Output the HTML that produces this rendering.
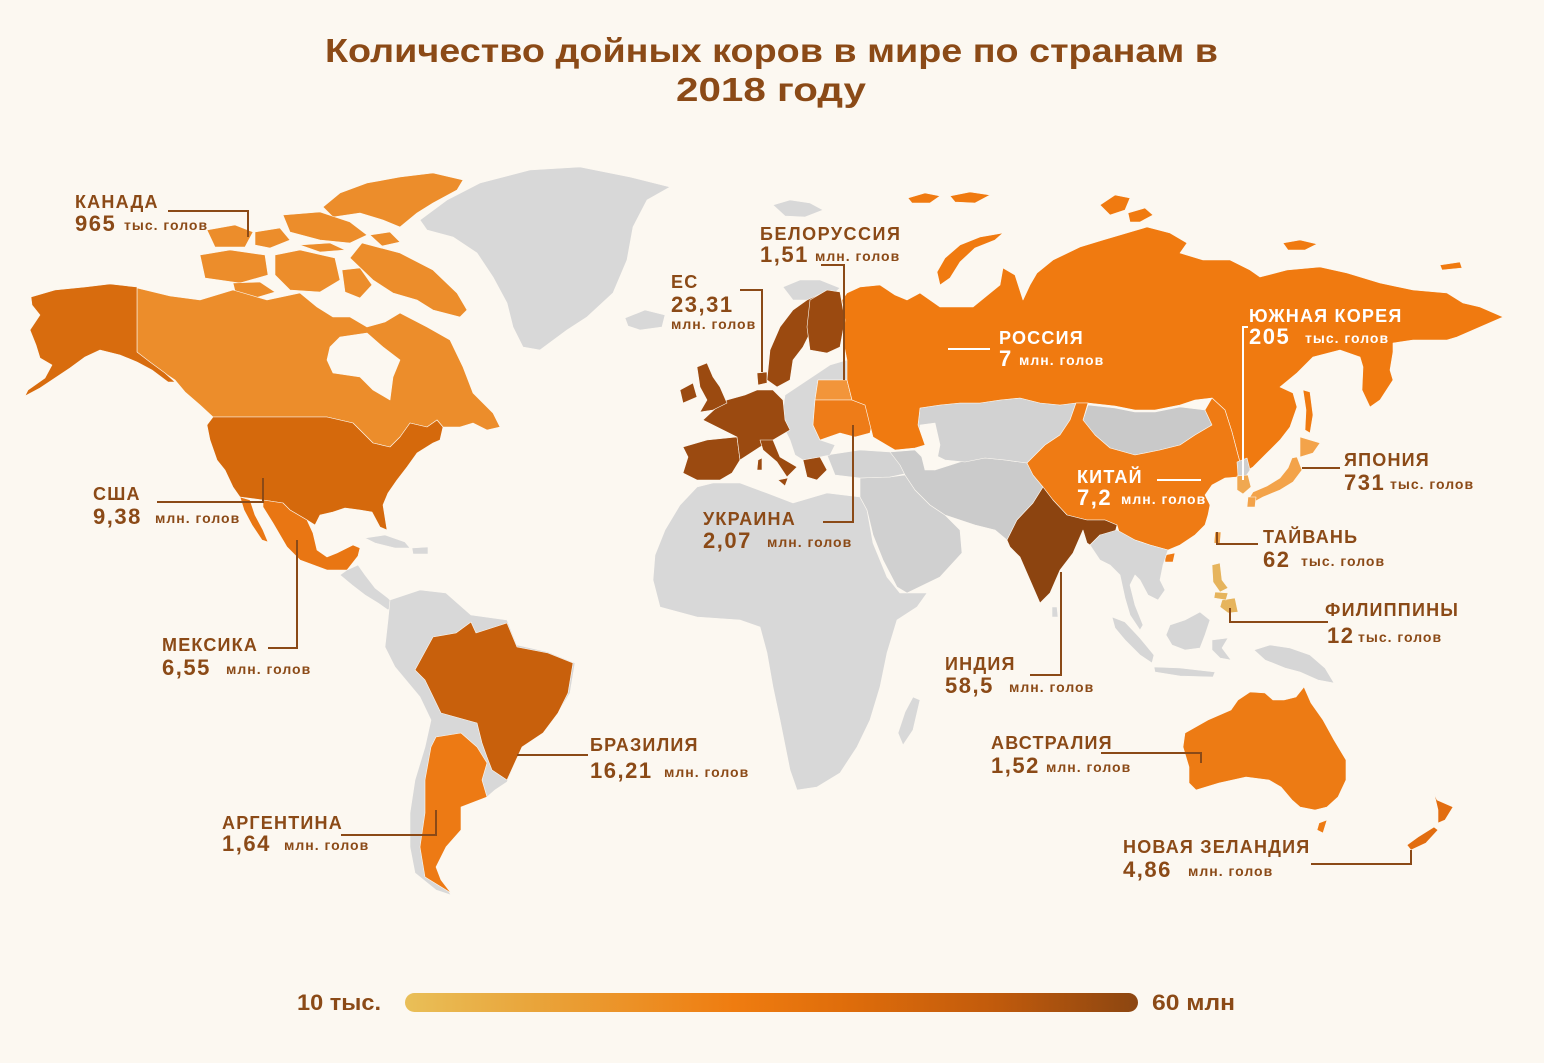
<!DOCTYPE html>
<html><head><meta charset="utf-8"><style>
html,body{margin:0;padding:0;background:#fcf8f1;}
svg{display:block;}
text{font-family:"Liberation Sans","DejaVu Sans",sans-serif;font-weight:bold;}
.t{fill:#8b4a17;font-size:18px;letter-spacing:1.2px;}
.n{fill:#8b4a17;font-size:22px;letter-spacing:1.5px;}
.s{fill:#8b4a17;font-size:14px;letter-spacing:1px;}
.w{fill:#ffffff;}
.ln{stroke:#8b4a17;stroke-width:2;fill:none;}
.lw{stroke:#ffffff;stroke-width:2;fill:none;}
.g{fill:#d8d8d8;}
polygon{stroke:#fcf8f1;stroke-width:0.6;stroke-linejoin:round;}
</style></head><body>
<svg width="1544" height="1063" viewBox="0 0 1544 1063" xmlns="http://www.w3.org/2000/svg">
<defs>
<linearGradient id="lg" x1="0" x2="1" y1="0" y2="0">
<stop offset="0" stop-color="#e9bf58"/>
<stop offset="0.18" stop-color="#e9a43a"/>
<stop offset="0.45" stop-color="#ef7c10"/>
<stop offset="0.6" stop-color="#df6d0b"/>
<stop offset="0.8" stop-color="#c25b0c"/>
<stop offset="1" stop-color="#8c4611"/>
</linearGradient>
</defs>
<rect width="1544" height="1063" fill="#fcf8f1"/>

<!-- Title -->
<text x="325" y="62" font-size="33" fill="#8b4a17" textLength="893" lengthAdjust="spacingAndGlyphs">Количество дойных коров в мире по странам в</text>
<text x="676" y="101" font-size="33" fill="#8b4a17" textLength="190" lengthAdjust="spacingAndGlyphs">2018 году</text>

<!-- Greenland, Iceland, Svalbard -->
<polygon class="g" fill="#d9d9d9" points="420,220 447,200 480,183 530,170 580,167 630,177 670,187 647,200 633,227 627,260 613,293 587,317 567,330 540,350 523,347 513,327 507,303 493,277 477,253 453,237 427,230"/>
<polygon class="g" points="625,318 645,310 665,315 662,327 640,330 628,326"/>
<polygon class="g" points="773,205 790,200 810,203 823,210 805,217 785,216"/>

<!-- Canada arctic islands -->
<g fill="#ec8d2b">
<polygon points="323,207 340,193 367,183 400,177 433,173 463,180 457,190 433,203 417,213 400,227 383,220 360,213 333,217"/>
<polygon points="283,215 320,212 350,222 367,235 350,243 320,240 290,232"/>
<polygon points="207,230 235,225 253,232 245,247 215,247"/>
<polygon points="200,255 230,250 265,255 268,275 240,283 205,278"/>
<polygon points="275,255 300,250 335,258 340,280 320,292 290,290 275,275"/>
<polygon points="350,258 362,243 400,253 433,270 457,293 467,310 460,317 433,310 417,300 393,293 373,280"/>
<polygon points="300,245 330,243 345,250 320,252"/>
<polygon points="255,232 280,228 290,240 270,248 255,245"/>
<polygon points="342,270 360,268 372,285 360,298 345,292"/>
<polygon points="233,283 260,282 275,292 255,298 236,295"/>
<polygon points="370,235 390,232 400,242 382,246"/>
<!-- Canada mainland -->
<polygon points="137,288 170,296 200,300 233,290 267,300 300,293 317,307 333,317 350,317 367,327 385,322 400,313 427,327 450,340 463,367 473,393 493,413 500,427 487,430 473,423 460,427 443,427 437,420 427,427 410,423 400,437 390,447 373,443 363,433 353,423 327,417 213,417 200,405 185,392 175,380 160,370 145,360 137,352"/>
</g>
<!-- Hudson Bay -->
<polygon fill="#fcf8f1" points="330,347 340,337 367,333 383,347 400,360 393,377 390,400 373,390 360,377 333,373 327,360"/>

<!-- Alaska -->
<polygon fill="#d86c0e" points="31,297 55,290 85,287 110,284 137,287 137,352 150,362 165,373 175,382 168,382 152,370 137,362 120,355 100,350 85,357 70,368 55,378 40,388 25,396 28,390 45,378 52,365 40,358 36,345 30,330 40,315 32,305"/>
<!-- USA -->
<polygon fill="#d5690c" points="213,417 327,417 353,423 363,433 373,443 390,447 400,437 410,423 427,427 437,420 443,427 440,440 433,443 417,453 407,467 397,480 388,493 383,505 387,530 380,527 372,512 360,510 345,508 333,512 320,515 315,525 307,520 290,510 283,503 263,500 240,497 233,487 225,470 217,460 210,440 207,425"/>
<!-- Mexico -->
<g fill="#e97613">
<polygon points="263,500 283,503 290,510 307,520 313,533 317,550 327,557 337,553 343,550 353,545 360,548 358,556 347,570 327,570 300,560 287,547 273,523 263,507"/>
<polygon points="240,497 250,500 255,515 263,530 268,542 262,540 252,525 244,510"/>
</g>
<!-- Central America & Caribbean -->
<polygon class="g" points="347,570 358,565 365,575 375,588 388,598 395,605 388,610 378,603 365,595 352,585 340,575"/>
<polygon class="g" points="365,538 385,535 405,542 410,548 395,548 375,543"/>
<polygon class="g" points="412,548 428,547 428,554 413,554"/>

<!-- South America -->
<polygon class="g" points="390,600 420,590 446,593 471,615 507,620 517,645 548,652 575,663 570,693 558,713 543,733 522,747 507,782 495,790 487,797 461,807 461,830 446,847 436,867 441,880 451,895 436,890 415,873 410,847 410,813 415,780 425,747 431,720 420,697 395,667 385,647 388,620"/>
<polygon fill="#c8600c" points="415,670 433,637 456,633 471,622 476,633 507,623 517,647 548,653 573,663 568,693 558,713 543,733 522,747 507,780 492,770 487,757 482,743 477,723 441,713 425,680"/>
<polygon fill="#ed7a14" points="431,747 436,737 461,733 477,747 487,763 482,780 487,797 461,807 461,830 446,847 436,867 441,880 451,893 425,877 420,847 425,813 425,780"/>

<!-- Africa -->
<polygon class="g" fill="#d9d9d9" points="697,487 713,483 740,483 767,493 793,503 827,493 860,497 867,510 873,543 887,577 900,593 927,593 917,607 897,620 887,653 880,687 870,720 857,747 840,773 817,787 797,790 790,770 780,720 773,687 767,653 760,627 740,620 697,617 660,607 653,580 655,555 665,530 680,505"/>
<polygon class="g" points="913,697 920,700 913,730 903,745 898,733 905,712"/>
<!-- Middle East -->
<polygon fill="#d0d0d0" points="860,478 890,477 905,475 915,490 930,505 945,515 960,530 962,553 940,577 907,593 897,587 883,560 873,535 867,510 860,497"/>
<polygon fill="#d3d3d3" points="827,455 860,450 890,452 917,458 913,472 890,477 860,478 835,475"/>
<polygon fill="#cbcbcb" points="890,452 915,450 935,470 960,462 985,458 1005,460 1027,463 1035,475 1043,487 1033,503 1017,520 1007,540 995,530 975,525 960,520 945,515 930,505 915,490 905,475 900,465"/>
<!-- Kazakhstan -->
<polygon fill="#d2d2d2" points="920,408 940,405 960,403 980,403 1000,400 1020,398 1040,403 1060,405 1076,403 1070,420 1060,435 1045,445 1027,463 1005,460 985,458 965,462 945,460 935,455 925,445 918,425"/>
<polygon fill="#fcf8f1" points="920,425 935,423 940,445 935,470 925,470 920,450"/>

<!-- Europe gray base -->
<polygon class="g" points="785,395 800,385 815,375 830,365 847,360 847,380 818,380 815,400 813,425 820,440 835,445 830,455 820,457 803,460 795,455 790,440 785,430 783,410"/>
<polygon class="g" points="783,287 800,280 820,280 840,288 830,297 810,300 793,300"/>
<!-- EU -->
<g fill="#9b4a10">
<polygon points="683,447 707,440 737,437 740,460 732,473 720,480 697,480 683,473 688,457"/>
<polygon points="703,420 717,407 727,400 745,395 757,390 773,390 783,400 785,420 790,430 773,440 760,447 740,460 737,437 717,427"/>
<polygon points="760,440 773,440 780,457 797,467 787,477 777,462 763,450"/>
<polygon points="778,480 788,478 785,486"/>
<polygon points="758,460 762,458 762,470 757,470"/>
<polygon points="697,367 707,363 713,377 720,387 727,403 713,410 700,412 707,400 700,387"/>
<polygon points="680,390 693,383 697,397 683,403"/>
<polygon points="757,373 767,372 767,383 758,385"/>
<polygon points="767,380 770,350 780,327 793,310 807,300 820,294 815,310 813,327 803,347 793,360 790,380 777,387"/>
<polygon points="810,300 827,290 840,292 845,320 840,347 827,353 810,350 807,327"/>
<polygon points="803,460 820,457 827,470 817,480 807,477"/>
</g>
<!-- Belarus, Ukraine -->
<polygon fill="#f2953a" points="818,380 847,380 852,400 815,400"/>
<polygon fill="#ee7c18" points="815,400 852,400 865,405 873,420 870,433 855,437 840,433 820,440 813,425"/>

<!-- Russia -->
<g fill="#f07a10">
<polygon points="847,293 860,287 880,285 895,295 907,300 920,293 940,307 973,307 1000,285 1003,268 1015,275 1023,300 1030,285 1037,273 1053,260 1080,247 1103,240 1137,230 1147,227 1170,233 1187,243 1180,253 1203,260 1230,260 1250,270 1260,277 1287,270 1320,267 1347,273 1380,283 1413,290 1447,293 1463,303 1480,307 1503,317 1480,327 1457,337 1447,340 1413,340 1393,343 1393,352 1390,370 1393,380 1380,400 1370,407 1362,390 1363,367 1360,357 1340,350 1313,357 1297,373 1280,387 1293,393 1297,407 1290,427 1280,440 1267,453 1253,467 1243,473 1238,455 1232,432 1225,410 1212,398 1195,400 1180,405 1155,410 1135,410 1115,406 1088,403 1076,403 1060,405 1040,403 1020,398 1000,400 980,403 960,403 940,405 920,408 918,425 925,445 915,448 895,450 873,437 870,425 865,405 852,400 847,380 847,360 843,340 845,320 842,300"/>
<polygon points="937,272 945,258 960,245 980,237 1003,233 995,240 975,248 960,262 950,278 940,285"/>
<polygon points="1100,205 1115,195 1130,198 1125,210 1110,215"/>
<polygon points="1128,213 1145,208 1153,215 1140,222 1130,222"/>
<polygon points="908,198 925,193 940,196 930,203 912,203"/>
<polygon points="950,196 970,192 990,195 975,203 955,202"/>
<polygon points="1283,243 1300,240 1317,244 1305,250 1288,250"/>
<polygon points="1440,265 1460,262 1462,268 1442,270"/>
<polygon points="1303,390 1310,392 1313,415 1310,433 1305,430 1306,410"/>
</g>

<!-- Mongolia -->
<polygon fill="#c9c9c9" points="1088,405 1115,408 1135,412 1155,412 1180,407 1205,410 1212,425 1195,435 1180,445 1160,450 1135,455 1110,448 1095,435 1083,420"/>
<!-- China -->
<polygon fill="#ef7b14" points="1027,463 1045,445 1060,435 1070,420 1076,403 1088,403 1083,420 1095,435 1110,448 1135,455 1160,450 1180,445 1195,435 1212,425 1205,410 1212,398 1225,410 1232,432 1238,455 1243,473 1237,477 1225,478 1212,485 1205,495 1210,505 1208,515 1205,525 1195,535 1180,545 1168,550 1150,545 1135,540 1120,535 1117,525 1105,520 1087,520 1067,515 1053,500 1043,487 1033,475"/>
<polygon fill="#ef7b14" points="1165,555 1175,553 1173,562 1165,562"/>
<!-- Korea -->
<polygon fill="#cfcfcf" points="1237,462 1247,458 1250,470 1246,476 1238,476"/>
<polygon fill="#f0a851" points="1237,476 1248,475 1251,487 1243,494 1237,490"/>
<!-- Japan -->
<g fill="#f3a34a">
<polygon points="1297,457 1302,470 1293,482 1280,490 1263,497 1252,503 1248,500 1253,492 1267,486 1280,478 1288,468 1292,458"/>
<polygon points="1300,437 1320,443 1313,453 1300,457"/>
<polygon points="1248,497 1256,497 1255,507 1247,507"/>
</g>
<!-- Taiwan -->
<polygon fill="#eea044" points="1215,532 1221,532 1220,544 1214,543"/>

<!-- India -->
<polygon fill="#8c4410" points="1010,547 1007,540 1017,520 1033,503 1043,487 1053,500 1067,515 1087,520 1105,520 1117,525 1115,533 1100,535 1090,545 1087,543 1083,530 1073,553 1060,570 1050,593 1040,603 1030,580 1020,557"/>
<polygon class="g" points="1052,607 1057,607 1058,617 1052,617"/>
<!-- SE Asia -->
<g fill="#d6d6d6">
<polygon points="1090,545 1100,535 1117,530 1135,540 1150,545 1168,550 1163,565 1160,580 1165,590 1158,600 1148,595 1140,580 1135,575 1130,585 1135,605 1143,625 1140,630 1130,615 1125,598 1120,575 1110,565 1100,560"/>
<polygon points="1112,617 1125,622 1140,638 1154,655 1152,663 1140,655 1125,640 1115,628"/>
<polygon points="1170,625 1185,620 1200,612 1210,620 1205,635 1200,648 1185,650 1172,645 1166,635"/>
<polygon points="1154,667 1180,668 1215,672 1213,677 1180,676 1155,672"/>
<polygon points="1212,640 1228,638 1222,648 1231,660 1220,658 1212,650"/>
<polygon points="1254,650 1270,645 1290,648 1310,655 1325,668 1334,683 1318,680 1300,672 1285,668 1265,660"/>
</g>
<!-- Philippines -->
<g fill="#e6b45c">
<polygon points="1212,565 1220,563 1222,580 1228,588 1220,592 1213,582"/>
<polygon points="1222,600 1235,598 1238,612 1228,613 1220,607"/>
<polygon points="1215,592 1228,593 1226,600 1214,598"/>
</g>

<!-- Australia -->
<polygon fill="#ed7b14" points="1185,733 1208,720 1231,710 1238,700 1250,692 1265,693 1273,700 1284,700 1296,697 1304,687 1311,703 1323,720 1334,740 1346,760 1346,780 1338,797 1327,807 1315,810 1300,807 1292,800 1281,787 1269,780 1246,777 1219,783 1196,790 1189,783 1189,767 1183,747"/>
<polygon fill="#ed7b14" points="1319,823 1327,820 1323,833 1317,830"/>
<!-- New Zealand -->
<g fill="#e26d10">
<polygon points="1434,793 1437,800 1453,807 1445,820 1438,823 1438,810"/>
<polygon points="1434,827 1438,830 1426,843 1411,850 1407,845 1418,837"/>
</g>

<!-- Leader lines -->
<polyline class="ln" points="168,211 248,211 248,237"/>
<polyline class="ln" points="157,502 263,502 263,478"/>
<polyline class="ln" points="268,648 297,648 297,540"/>
<polyline class="ln" points="517,755 588,755"/>
<polyline class="ln" points="341,835 436,835 436,810"/>
<polyline class="ln" points="740,290 762,290 762,372"/>
<polyline class="ln" points="821,265 844,265 844,380"/>
<polyline class="ln" points="823,522 853,522 853,425"/>
<polyline class="lw" points="948,349 990,349"/>
<polyline class="lw" points="1248,327 1243,327 1243,480"/>
<polyline class="lw" points="1157,480 1201,480"/>
<polyline class="ln" points="1302,468 1340,468"/>
<polyline class="ln" points="1217,532 1217,544 1258,544"/>
<polyline class="ln" points="1230,608 1230,622 1328,622"/>
<polyline class="ln" points="1030,675 1061,675 1061,572"/>
<polyline class="ln" points="1101,753 1201,753 1201,763"/>
<polyline class="ln" points="1311,864 1411,864 1411,850"/>

<!-- Labels -->
<text class="t" x="75" y="208">КАНАДА</text>
<text class="n" x="75" y="231">965</text><text class="s" x="124" y="230">тыс. голов</text>

<text class="t" x="760" y="240" style="letter-spacing:1.5px">БЕЛОРУССИЯ</text>
<text class="n" x="760" y="262">1,51</text><text class="s" x="815" y="261">млн. голов</text>

<text class="t" x="671" y="288">ЕС</text>
<text class="n" x="671" y="312">23,31</text>
<text class="s" x="671" y="329">млн. голов</text>

<text class="t w" x="999" y="344">РОССИЯ</text>
<text class="n w" x="999" y="366">7</text><text class="s w" x="1019" y="365">млн. голов</text>

<text class="t w" x="1249" y="322">ЮЖНАЯ КОРЕЯ</text>
<text class="n w" x="1249" y="344">205</text><text class="s w" x="1305" y="343">тыс. голов</text>

<text class="t" x="1344" y="466">ЯПОНИЯ</text>
<text class="n" x="1344" y="490">731</text><text class="s" x="1390" y="489">тыс. голов</text>

<text class="t w" x="1077" y="483">КИТАЙ</text>
<text class="n w" x="1077" y="505">7,2</text><text class="s w" x="1121" y="504">млн. голов</text>

<text class="t" x="93" y="500">США</text>
<text class="n" x="93" y="524">9,38</text><text class="s" x="155" y="523">млн. голов</text>

<text class="t" x="703" y="525">УКРАИНА</text>
<text class="n" x="703" y="548">2,07</text><text class="s" x="767" y="547">млн. голов</text>

<text class="t" x="1263" y="543">ТАЙВАНЬ</text>
<text class="n" x="1263" y="567">62</text><text class="s" x="1301" y="566">тыс. голов</text>

<text class="t" x="1325" y="616">ФИЛИППИНЫ</text>
<text class="n" x="1327" y="643">12</text><text class="s" x="1358" y="642">тыс. голов</text>

<text class="t" x="162" y="651">МЕКСИКА</text>
<text class="n" x="162" y="675">6,55</text><text class="s" x="226" y="674">млн. голов</text>

<text class="t" x="945" y="670">ИНДИЯ</text>
<text class="n" x="945" y="693">58,5</text><text class="s" x="1009" y="692">млн. голов</text>

<text class="t" x="590" y="751">БРАЗИЛИЯ</text>
<text class="n" x="590" y="778">16,21</text><text class="s" x="664" y="777">млн. голов</text>

<text class="t" x="991" y="749">АВСТРАЛИЯ</text>
<text class="n" x="991" y="773">1,52</text><text class="s" x="1046" y="772">млн. голов</text>

<text class="t" x="222" y="829">АРГЕНТИНА</text>
<text class="n" x="222" y="851">1,64</text><text class="s" x="284" y="850">млн. голов</text>

<text class="t" x="1123" y="853">НОВАЯ ЗЕЛАНДИЯ</text>
<text class="n" x="1123" y="877">4,86</text><text class="s" x="1188" y="876">млн. голов</text>

<!-- Legend -->
<rect x="405" y="993" width="733" height="19" rx="9.5" fill="url(#lg)"/>
<text x="297" y="1010" font-size="22" fill="#8b4a17" textLength="84" lengthAdjust="spacingAndGlyphs">10 тыс.</text>
<text x="1152" y="1010" font-size="22" fill="#8b4a17" textLength="83" lengthAdjust="spacingAndGlyphs">60 млн</text>
</svg>
</body></html>
